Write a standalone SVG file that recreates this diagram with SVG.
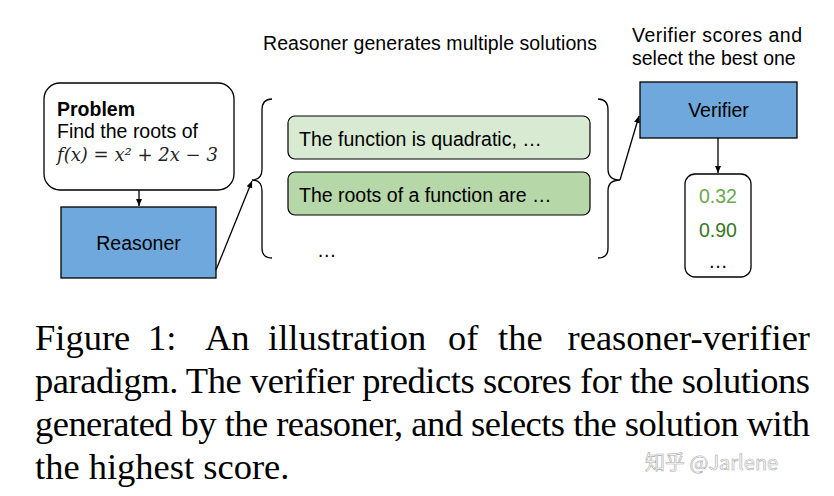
<svg xmlns="http://www.w3.org/2000/svg" width="834" height="496" viewBox="0 0 834 496">
<defs>
<marker id="ah" markerWidth="8" markerHeight="8" refX="7" refY="4" orient="auto" markerUnits="userSpaceOnUse"><path d="M0,1 L7,4 L0,7 z" fill="#000"/></marker>
<style>
.s{font-family:"Liberation Sans",Arial,sans-serif;font-size:19.5px;fill:#000}
.cap{font-family:"Liberation Serif","Times New Roman",serif;font-size:36.5px;fill:#000}
.ln{fill:none;stroke:#000;stroke-width:1.3}
</style>
</defs>
<rect width="834" height="496" fill="#fff"/>
<text class="s" x="263" y="50" textLength="334">Reasoner generates multiple solutions</text>
<text class="s" x="632" y="42" textLength="170" lengthAdjust="spacing">Verifier  scores  and</text>
<text class="s" x="632" y="65">select the best one</text>
<g id="problem">
<rect x="44" y="83" width="190" height="107" rx="16" fill="#fff" stroke="#000" stroke-width="1.3"/>
<text class="s" x="57" y="116" font-weight="bold">Problem</text>
<text class="s" x="57" y="138">Find the roots of</text>
<text x="57" y="161" font-family="'DejaVu Serif',serif" font-size="18" font-style="italic" fill="#222">f(x) = x² + 2x − 3</text>
</g>
<g id="reasoner">
<rect x="61" y="207" width="155" height="71" fill="#6fa8dc" stroke="#000" stroke-width="1.3"/>
<text class="s" x="138.5" y="250" text-anchor="middle">Reasoner</text>
</g>
<g id="solutions">
<path class="ln" d="M272,99 Q262,99 262,110 L262,169 Q262,180 252,180 Q262,180 262,191 L262,248 Q262,258 272,258"/>
<path class="ln" d="M598,99 Q608,99 608,110 L608,169 Q608,180 620,180 Q608,180 608,191 L608,248 Q608,258 598,258"/>
<rect x="288" y="116" width="302" height="43" rx="7" fill="#d9ead3" stroke="#000" stroke-width="1.2"/>
<text class="s" x="299" y="146">The function is quadratic, …</text>
<rect x="288" y="172" width="302" height="43" rx="7" fill="#b6d7a8" stroke="#000" stroke-width="1.2"/>
<text class="s" x="299" y="202">The roots of a function are …</text>
<text class="s" x="317" y="257">…</text>
</g>
<g id="verifier">
<rect x="640" y="82" width="157" height="56" fill="#6fa8dc" stroke="#000" stroke-width="1.3"/>
<text class="s" x="718.5" y="117" text-anchor="middle">Verifier</text>
</g>
<g id="scores">
<rect x="685" y="174" width="66" height="103" rx="10" fill="#fff" stroke="#000" stroke-width="1.3"/>
<text class="s" x="718" y="203" text-anchor="middle" style="fill:#6aa84f">0.32</text>
<text class="s" x="718" y="237" text-anchor="middle" style="fill:#38761d">0.90</text>
<text class="s" x="718" y="268" text-anchor="middle">…</text>
</g>
<g id="connectors">
<line class="ln" x1="139" y1="190" x2="139" y2="206" marker-end="url(#ah)"/>
<line class="ln" x1="216" y1="270" x2="252" y2="181" marker-end="url(#ah)"/>
<line class="ln" x1="620" y1="180" x2="639" y2="116" marker-end="url(#ah)"/>
<line class="ln" x1="718" y1="138" x2="718" y2="173" marker-end="url(#ah)"/>
</g>
<text class="cap" y="350"><tspan x="35">Figure</tspan><tspan x="148">1:</tspan><tspan x="205">An</tspan><tspan x="268">illustration</tspan><tspan x="448">of</tspan><tspan x="498">the</tspan></text>
<text class="cap" x="810" y="350" text-anchor="end">reasoner-verifier</text>
<text class="cap" x="35" y="393" textLength="775" lengthAdjust="spacing">paradigm. The verifier predicts scores for the solutions</text>
<text class="cap" x="35" y="436" textLength="775" lengthAdjust="spacing">generated by the reasoner, and selects the solution with</text>
<text class="cap" x="35" y="479">the highest score.</text>
<text x="645" y="470" font-family="'Noto Sans CJK SC','Liberation Sans',sans-serif" font-size="20" fill="#fff" stroke="#aaa" stroke-width="0.6">知乎 @Jarlene</text>
</svg>
